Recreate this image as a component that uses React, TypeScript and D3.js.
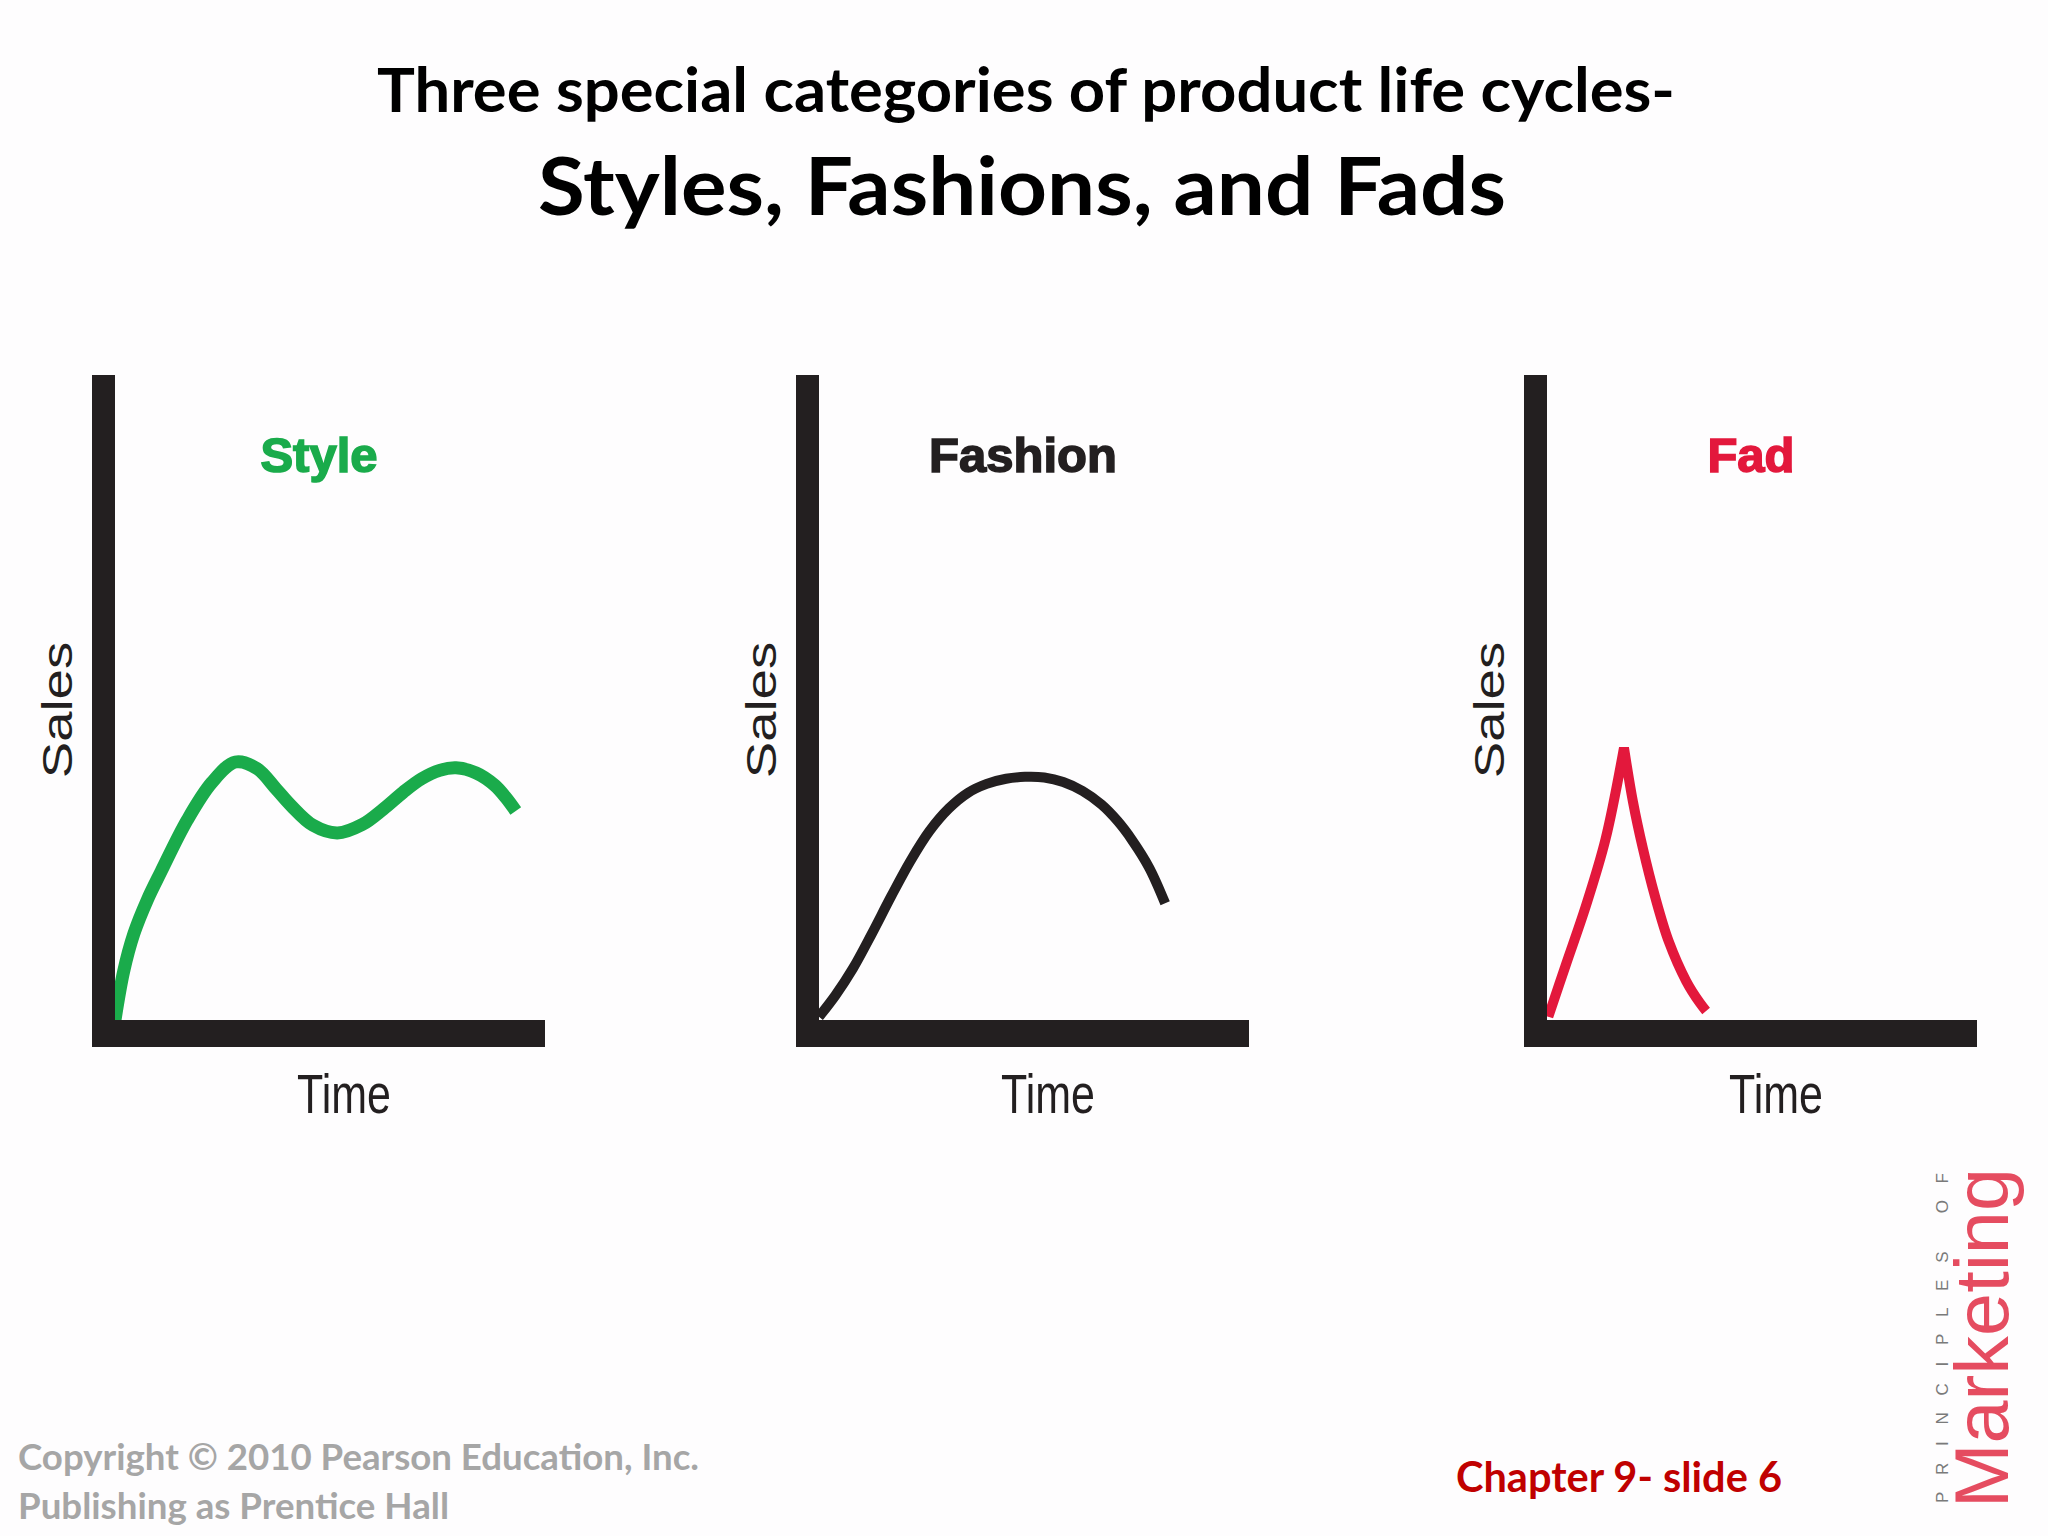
import React from "react";
import * as d3 from "d3";

// ---------- data ----------
const titleLines = ["Three special categories of product life cycles-", "Styles, Fashions, and Fads"];
const panelTitles = ["Style", "Fashion", "Fad"];
const xAxisLabel = "Time";
const yAxisLabel = "Sales";

// [time, sales] on a 0–100 / 0–100 conceptual scale
const styleSales: [number, number][] = [
  [0, 0], [2.0, 7.5], [4.4, 13.4], [7.5, 18.6], [10.7, 23.0], [16.8, 31.0], [22.5, 36.8], [28.0, 40.0],
  [33.0, 39.0], [37.5, 35.8], [41.0, 33.2], [46.0, 30.2], [51.7, 29.0],
  [57.5, 30.3], [62.4, 32.7], [67.0, 35.3], [71.3, 37.4], [75.5, 38.7],
  [79.3, 39.1], [84.0, 38.3], [88.3, 36.4], [91.0, 34.4], [93.2, 32.4],
];
const fashionSales: [number, number][] = [
  [0, 0.5], [3.8, 3.8], [7.9, 8.0], [12.3, 13.4], [16.8, 19.2], [21.3, 24.7],
  [25.7, 29.3], [30.2, 32.8], [34.6, 35.2], [39.0, 36.6], [43.5, 37.4],
  [47.9, 37.7], [52.4, 37.6], [56.8, 36.9], [61.3, 35.5], [65.7, 33.4],
  [69.5, 30.8], [72.8, 27.9], [76.8, 23.6], [80.5, 18.1],
];
const fadRise: [number, number][] = [
  [0.3, 0.5], [4.4, 8.6], [9.0, 17.6], [13.6, 28.0], [17.9, 42.2],
];
const fadFall: [number, number][] = [
  [17.9, 42.2], [20.0, 33.8], [22.3, 26.6], [25.1, 19.2], [28.3, 12.2],
  [32.4, 6.0], [35.6, 2.6], [37.0, 1.4],
];

const footerLines = ["Copyright \u00a9 2010 Pearson Education, Inc.", "Publishing as Prentice Hall"];
const slideLabel = "Chapter 9- slide 6";
const logoSmall = "PRINCIPLES OF";
const logoBig = "Marketing";

// ---------- layout ----------
const W = 2048;
const H = 1536;
const panelOrigins = [115, 819, 1547]; // inner corner x of each panel
const panelWidth = 430;
const plotTop = 375;
const plotBottom = 1020;
const vBar = 23;
const hBar = 27;
const ink = "#231f20";
const green = "#1aab4b";
const red = "#e3183c";

type Pt = [number, number];

function Panel({ idx }: { idx: number }) {
  const x0 = panelOrigins[idx];
  const xs = d3.scaleLinear().domain([0, 100]).range([x0, x0 + panelWidth]);
  const ys = d3.scaleLinear().domain([0, 100]).range([plotBottom, plotTop]);
  const line = d3
    .line<Pt>()
    .x((d) => xs(d[0]))
    .y((d) => ys(d[1]))
    .curve(d3.curveCatmullRom.alpha(0.5));

  let curve: React.ReactNode = null;
  if (idx === 0) {
    curve = <path d={line(styleSales) || ""} fill="none" stroke={green} strokeWidth={13} />;
  } else if (idx === 1) {
    curve = <path d={line(fashionSales) || ""} fill="none" stroke={ink} strokeWidth={10} />;
  } else {
    const a = line(fadRise) || "";
    const b = (line(fadFall) || "").replace(/^M[^CLc]*/, "");
    curve = (
      <path d={a + b} fill="none" stroke={red} strokeWidth={10} strokeLinejoin="miter" strokeMiterlimit={2} />
    );
  }
  const titleColor = idx === 0 ? green : idx === 1 ? ink : red;
  const [r0, r1] = xs.range();
  const [yb, yt] = ys.range();
  return (
    <g>
      {curve}
      {/* axes */}
      <rect x={r0 - vBar} y={yt} width={vBar} height={yb + hBar - yt} fill={ink} />
      <rect x={r0 - vBar} y={yb} width={r1 - r0 + vBar} height={hBar} fill={ink} />
      {/* panel title */}
      <text
        x={r0 + 204}
        y={472}
        textAnchor="middle"
        fontFamily="'Liberation Sans', Arial, sans-serif"
        fontWeight="bold"
        fontSize={49}
        fill={titleColor}
        stroke={titleColor}
        strokeWidth={1.6}
      >
        {panelTitles[idx]}
      </text>
      {/* x label */}
      <text
        transform={`translate(${r0 + 229},${1113}) scale(1,1.29)`}
        textAnchor="middle"
        fontFamily="'Liberation Sans', Arial, sans-serif"
        fontSize={43}
        fill={ink}
      >
        {xAxisLabel}
      </text>
      {/* y label */}
      <text
        transform={`translate(${r0 - vBar - 20},${710}) scale(1,1.3) rotate(-90)`}
        textAnchor="middle"
        fontFamily="'Liberation Sans', Arial, sans-serif"
        fontSize={42}
        fill={ink}
      >
        {yAxisLabel}
      </text>
    </g>
  );
}

export default function App() {
  const titleFont = "Lato, 'Open Sans', 'Noto Sans', sans-serif";
  return (
    <svg
      width={W}
      height={H}
      viewBox={`0 0 ${W} ${H}`}
      style={{ position: "absolute", left: 0, top: 0, background: "#fefdfe" }}
    >
      <rect x={0} y={0} width={W} height={H} fill="#fefdfe" />
      <text
        x={1026}
        y={112}
        textAnchor="middle"
        fontFamily={titleFont}
        fontWeight="bold"
        fontSize={62}
        textLength={1298}
        lengthAdjust="spacingAndGlyphs"
        fill="#000"
      >
        {titleLines[0]}
      </text>
      <text
        x={1022}
        y={215}
        textAnchor="middle"
        fontFamily={titleFont}
        fontWeight="bold"
        fontSize={81}
        textLength={968}
        lengthAdjust="spacingAndGlyphs"
        fill="#000"
      >
        {titleLines[1]}
      </text>

      {panelOrigins.map((_, i) => (
        <Panel key={i} idx={i} />
      ))}

      {/* footer */}
      <text
        x={18}
        y={1470}
        fontFamily={titleFont}
        fontWeight="bold"
        fontSize={36}
        textLength={681}
        lengthAdjust="spacingAndGlyphs"
        fill="#a6a6a6"
      >
        {footerLines[0]}
      </text>
      <text
        x={18}
        y={1519}
        fontFamily={titleFont}
        fontWeight="bold"
        fontSize={36}
        textLength={431}
        lengthAdjust="spacingAndGlyphs"
        fill="#a6a6a6"
      >
        {footerLines[1]}
      </text>
      <text
        x={1456}
        y={1492}
        fontFamily={titleFont}
        fontWeight="bold"
        fontSize={42}
        textLength={326}
        lengthAdjust="spacingAndGlyphs"
        fill="#c00000"
      >
        {slideLabel}
      </text>

      {/* logo */}
      <text
        transform="translate(1948,1503) rotate(-90)"
        fontFamily="'Liberation Sans', Arial, sans-serif"
        fontSize={17}
        textLength={330}
        lengthAdjust="spacing"
        fill="#7a7a7a"
      >
        {logoSmall}
      </text>
      <text
        transform="translate(2008,1508) rotate(-90)"
        fontFamily="'Liberation Sans', Arial, sans-serif"
        fontSize={76}
        textLength={340}
        lengthAdjust="spacingAndGlyphs"
        fill="#e2384f"
        fillOpacity={0.9}
      >
        {logoBig}
      </text>
    </svg>
  );
}
